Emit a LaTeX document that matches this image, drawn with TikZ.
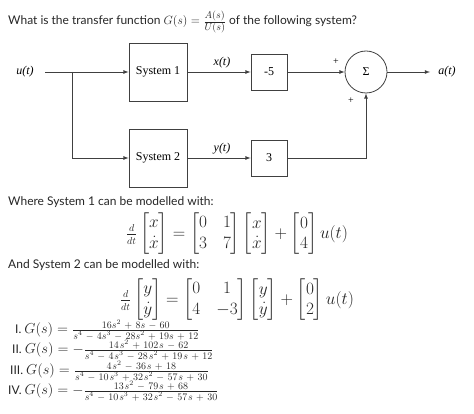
\documentclass[tikz,border=0pt]{standalone}
\usepackage{amsmath}
\usepackage{fontspec}
\setmainfont{Lato}
\newfontfamily\blockfont{Liberation Serif}
\usetikzlibrary{arrows}
% small fraction with its own font size
\newcommand{\tf}[2]{\frac{\hbox{\fontsize{10}{11}\selectfont$\medmuskip=6mu\thinmuskip=1.5mu\relax #1$}}{\hbox{\fontsize{10}{11}\selectfont$\medmuskip=6mu\thinmuskip=1.5mu\relax #2$}}}
\newcommand{\ddt}{\frac{\hbox{\fontsize{10}{11}\selectfont$d$}}{\hbox{\fontsize{10}{11}\selectfont$dt$}}}
\newcommand{\gs}{\fontsize{13.5}{16}\selectfont}

\begin{document}
\begin{tikzpicture}[x = 1pt, y = -1pt]
\tikzstyle{BlockStyle}=[shape = rectangle,
                        draw = black!75,
                        line width = 0.8pt,
                        inner sep = 0pt,
                        font = \blockfont\fontsize{12}{14}\selectfont]
\tikzstyle{SignalStyle}=[font = \blockfont\itshape\fontsize{12}{14}\selectfont]
\tikzstyle{SignStyle}=[inner sep = 0pt, font = \blockfont\fontsize{10}{12}\selectfont]
\tikzstyle{TextStyle}=[anchor = west, inner sep = 0pt, text = black!85,
                       font = \fontsize{12}{14}\selectfont]
\tikzstyle{EqStyle}=[inner sep = 0pt, text = black!85,
                     font = \fontsize{16}{20}\selectfont\setlength{\arraycolsep}{8pt}]
\tikzstyle{post}=[->, >=latex, draw = black!75, line width = 0.8pt]
\useasboundingbox (0,0) rectangle (474,414);
% question
\node[TextStyle] (q) at (8,22) {What is the transfer function \(G(s)=\tf{A(s)}{U(s)}\) of the following system?};
% block diagram
\node[SignalStyle] (u) at (25,72) {u(t)};
\coordinate (split) at (72,72);
\node[BlockStyle, minimum width = 58pt, minimum height = 58pt] (sys1) at (158,72) {System 1};
\node[BlockStyle, minimum width = 58pt, minimum height = 58pt] (sys2) at (158,158) {System 2};
\node[BlockStyle, minimum width = 36pt, minimum height = 36pt] (gain1) at (269,72) {-5};
\node[BlockStyle, minimum width = 36pt, minimum height = 36pt] (gain2) at (269,158) {3};
\node[BlockStyle, shape = circle, minimum size = 42pt] (sum) at (366,72) {Σ};
\coordinate (out) at (430,72);
\node[SignalStyle] (a) at (447,72) {a(t)};
\node[SignalStyle] (x) at (222,63) {x(t)};
\node[SignalStyle] (y) at (222,149) {y(t)};
\node[SignStyle] (p1) at (336,62) {+};
\node[SignStyle] (p2) at (351,101) {+};
\draw[post, -, shorten < = 8pt] (u) -- (split);
\draw[post] (split) -- (sys1);
\draw[post] (split) |- (sys2);
\draw[post] (sys1) -- (gain1);
\draw[post] (sys2) -- (gain2);
\draw[post] (gain1) -- (sum);
\draw[post] (gain2) -| (sum);
\draw[post] (sum) -- (out);
% models
\node[TextStyle] (t1) at (8,202) {Where System 1 can be modelled with:};
\node[EqStyle] (eq1) at (237,234) {\(\ddt\begin{bmatrix}x\\ \dot{x}\end{bmatrix}=\begin{bmatrix}0&1\\ 3&7\end{bmatrix}\begin{bmatrix}x\\ \dot{x}\end{bmatrix}+\begin{bmatrix}0\\ 4\end{bmatrix}u(t)\)};
\node[TextStyle] (t2) at (8,265) {And System 2 can be modelled with:};
\node[EqStyle] (eq2) at (237,300) {\(\ddt\begin{bmatrix}y\\ \dot{y}\end{bmatrix}=\begin{bmatrix}0&1\\ 4&-3\end{bmatrix}\begin{bmatrix}y\\ \dot{y}\end{bmatrix}+\begin{bmatrix}0\\ 2\end{bmatrix}u(t)\)};
% answers
\node[TextStyle] (ans1) at (15,330) {I. {\gs\(G(s)=\tf{16s^2+8s-60}{s^4-4s^3-28s^2+19s+12}\)}};
\node[TextStyle] (ans2) at (12,350) {II. {\gs\(G(s)=-\tf{14\,s^2+102\,s-62}{s^4-4\,s^3-28\,s^2+19\,s+12}\)}};
\node[TextStyle] (ans3) at (10,371) {III. {\gs\(G(s)=\tf{4\,s^2-36\,s+18}{s^4-10\,s^3+32\,s^2-57\,s+30}\)}};
\node[TextStyle] (ans4) at (8,391) {IV. {\gs\(G(s)=-\tf{13\,s^2-79\,s+68}{s^4-10\,s^3+32\,s^2-57\,s+30}\)}};
\end{tikzpicture}
\end{document}
